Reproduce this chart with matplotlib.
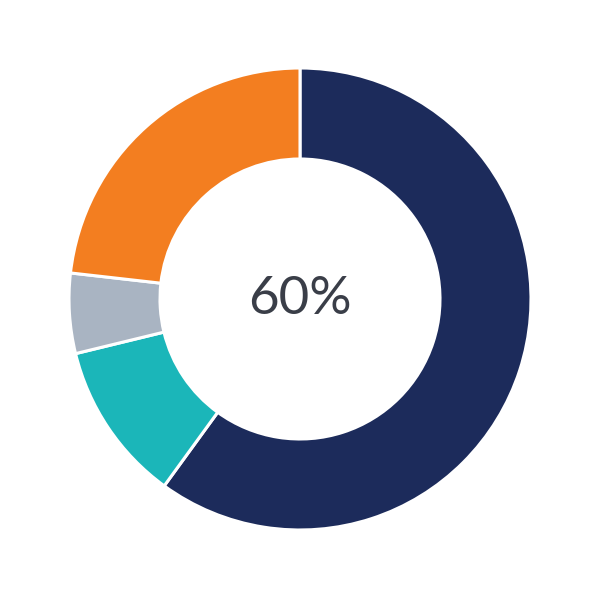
import matplotlib
matplotlib.use("Agg")
import matplotlib.pyplot as plt

labels = ["Navy", "Teal", "Gray", "Orange"]
values = [60, 11.2, 5.6, 23.2]
colors = ["#1c2b5b", "#1bb6b9", "#a9b4c2", "#f37e20"]
center_label = "60%"

fig = plt.figure(figsize=(6.0, 5.99), dpi=100)
ax = fig.add_axes([0, 0, 1, 1])
R = 231.0
ax.pie(values, colors=colors, startangle=90, counterclock=False, radius=1.0,
       wedgeprops=dict(width=1 - 140 / R, edgecolor="white", linewidth=2.2))
ax.set_xlim(-300 / R, 300 / R)
ax.set_ylim(-300 / R, 299 / R)
ax.set_aspect("equal")
ax.axis("off")
ax.text(0, 0, center_label, ha="center", va="center", fontsize=38,
        family=["Lato", "DejaVu Sans"], color="#3a3e48")
fig.savefig("out.png", dpi=100)
